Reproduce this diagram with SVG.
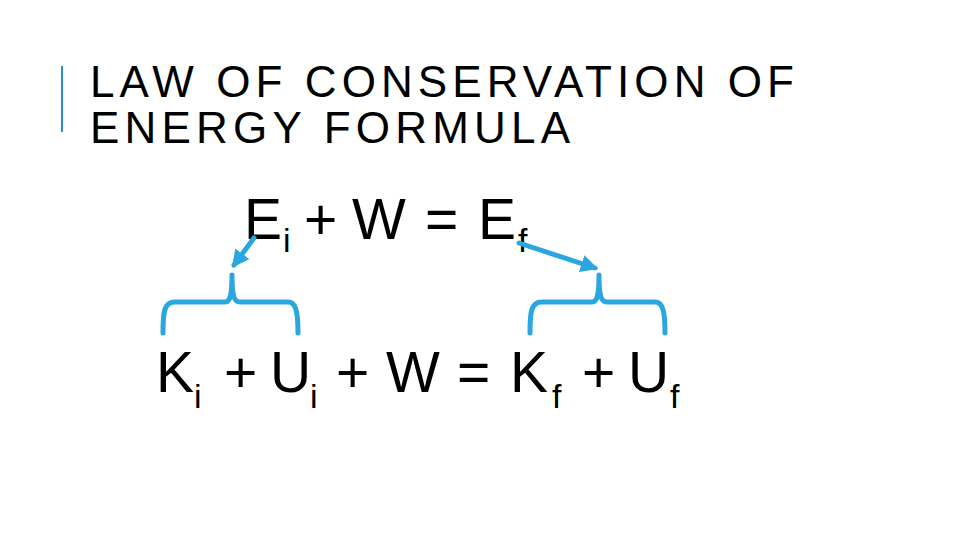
<svg xmlns="http://www.w3.org/2000/svg" width="960" height="540" viewBox="0 0 960 540">
<style>
.t{font-family:"Liberation Sans",Arial,sans-serif;fill:#000}
.h{font-size:44px}
.b{font-size:57px}
.s{font-size:34px}
.c{fill:none;stroke:#2aa7df;stroke-width:5;stroke-linecap:round;stroke-linejoin:round}
</style>
<defs><marker id="ar" viewBox="0 0 10 10" refX="8" refY="5" markerWidth="3.5" markerHeight="3.5" orient="auto"><path d="M0,0L10,5L0,10z" fill="#2aa7df"/></marker></defs>
<rect width="960" height="540" fill="#fff"/>
<g id="title">
<line x1="62" y1="66" x2="62" y2="132" stroke="#2a8fc8" stroke-width="2"/>
<text class="t h" x="90" y="97" textLength="704" lengthAdjust="spacing">LAW OF CONSERVATION OF</text>
<text class="t h" x="90" y="143" textLength="480" lengthAdjust="spacing">ENERGY FORMULA</text>
</g>
<g id="top">
<text class="t b" x="244" y="239">E</text><text class="t s" x="283" y="252">i</text>
<text class="t b" x="304" y="239">+</text>
<text class="t b" x="352" y="239">W</text>
<text class="t b" x="425" y="239">=</text>
<text class="t b" x="478" y="239">E</text><text class="t s" x="518" y="252">f</text>
</g>
<g id="bottom">
<text class="t b" x="156" y="392">K</text><text class="t s" x="194" y="408">i</text>
<text class="t b" x="224" y="392">+</text>
<text class="t b" x="270" y="392">U</text><text class="t s" x="310" y="408">i</text>
<text class="t b" x="336" y="392">+</text>
<text class="t b" x="386" y="392">W</text>
<text class="t b" x="457" y="392">=</text>
<text class="t b" x="510" y="392">K</text><text class="t s" x="552" y="408">f</text>
<text class="t b" x="582" y="392">+</text>
<text class="t b" x="628" y="392">U</text><text class="t s" x="670" y="408">f</text>
</g>
<g id="connectors">
<path class="c" d="M163,333 C163,312 164,302 175,302 L225,302 C230,302 232,296 232,275 C232,296 234,302 240,302 L288,302 C296,302 298,312 298,333"/>
<path class="c" d="M530,333 C530,312 531,302 542,302 L592,302 C597,302 599,296 599,275 C599,296 601,302 607,302 L655,302 C663,302 665,312 665,333"/>
<line class="c" x1="254" y1="238" x2="234" y2="265" marker-end="url(#ar)"/>
<line class="c" x1="519" y1="243" x2="595" y2="268" marker-end="url(#ar)"/>
</g>
</svg>
